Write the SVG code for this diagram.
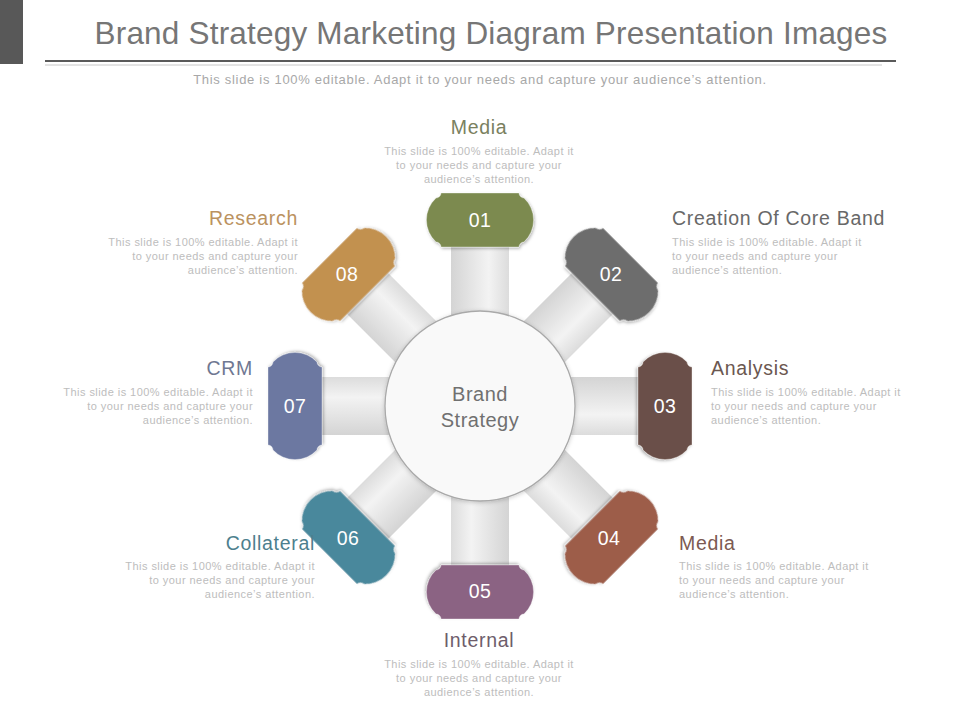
<svg xmlns="http://www.w3.org/2000/svg" width="960" height="720" viewBox="0 0 960 720">
<defs>
<style>
.title{font-family:"Liberation Sans",Arial,sans-serif;font-size:31.5px;letter-spacing:0.2px;fill:#767676}
.sub{font-family:"Liberation Sans",Arial,sans-serif;font-size:13px;letter-spacing:0.7px;fill:#a8a8a8}
.lbl{font-family:"Liberation Sans",Arial,sans-serif;font-size:19.5px;letter-spacing:0.7px}
.desc{font-family:"Liberation Sans",Arial,sans-serif;font-size:11px;letter-spacing:0.45px;fill:#bdbdbd}
.num{font-family:"Liberation Sans",Arial,sans-serif;font-size:19.5px;letter-spacing:0.5px;fill:#ffffff;text-anchor:middle}
.ctr{font-family:"Liberation Sans",Arial,sans-serif;font-size:20px;letter-spacing:0.5px;fill:#707070;text-anchor:middle}
.spoke{fill:url(#sg)}
.tagp{stroke:#ffffff;stroke-opacity:0.35;stroke-width:1;filter:url(#sh)}
</style>
<linearGradient id="sg" x1="0" y1="0" x2="1" y2="0">
<stop offset="0" stop-color="#d4d4d4"/>
<stop offset="0.65" stop-color="#f3f3f3"/>
<stop offset="1" stop-color="#dcdcdc"/>
</linearGradient>
<filter id="sh" x="-20%" y="-20%" width="140%" height="140%">
<feDropShadow dx="1" dy="1.5" stdDeviation="1.5" flood-color="#000" flood-opacity="0.3"/>
</filter>
<filter id="csh" x="-20%" y="-20%" width="140%" height="140%">
<feDropShadow dx="0" dy="1" stdDeviation="2" flood-color="#000" flood-opacity="0.2"/>
</filter>
<path id="tag" d="M -39,-27 H 39 A 5 5 0 0 0 44,-22 A 30 30 0 0 1 44,22 A 5 5 0 0 0 39,27 H -39 A 5 5 0 0 0 -44,22 A 30 30 0 0 1 -44,-22 A 5 5 0 0 0 -39,-27 Z"/>
</defs>
<rect width="960" height="720" fill="#ffffff"/>
<g id="header">
<rect x="0" y="0" width="23" height="64" fill="#585858"/>
<text class="title" x="491" y="44" text-anchor="middle">Brand Strategy Marketing Diagram Presentation Images</text>
<line x1="45" y1="61" x2="896" y2="61" stroke="#5a5a5a" stroke-width="2"/>
<line x1="45" y1="65" x2="882" y2="65" stroke="#c8c8c8" stroke-width="1"/>
<text class="sub" x="480" y="84" text-anchor="middle">This slide is 100% editable. Adapt it to your needs and capture your audience’s attention.</text>
</g>
<g id="connectors">
<rect class="spoke" x="-29" y="-165" width="58" height="165" transform="translate(480,406) rotate(0)"/>
<rect class="spoke" x="-29" y="-165" width="58" height="165" transform="translate(480,406) rotate(45)"/>
<rect class="spoke" x="-29" y="-165" width="58" height="165" transform="translate(480,406) rotate(90)"/>
<rect class="spoke" x="-29" y="-165" width="58" height="165" transform="translate(480,406) rotate(135)"/>
<rect class="spoke" x="-29" y="-165" width="58" height="165" transform="translate(480,406) rotate(180)"/>
<rect class="spoke" x="-29" y="-165" width="58" height="165" transform="translate(480,406) rotate(225)"/>
<rect class="spoke" x="-29" y="-165" width="58" height="165" transform="translate(480,406) rotate(270)"/>
<rect class="spoke" x="-29" y="-165" width="58" height="165" transform="translate(480,406) rotate(315)"/>
</g>
<g id="center">
<circle cx="480" cy="406" r="95" fill="#f9f9f9" stroke="#a9a9a9" stroke-width="1.3" filter="url(#csh)"/>
<text class="ctr" x="480" y="401">Brand</text>
<text class="ctr" x="480" y="427">Strategy</text>
</g>
<g id="node01">
<use href="#tag" class="tagp" fill="#7b8a4f" transform="translate(480,220) rotate(0)"/>
<text class="num" x="480" y="227">01</text>
<text class="lbl" x="479" y="134" text-anchor="middle" fill="#7a8160">Media</text>
<text class="desc" text-anchor="middle"><tspan x="479" y="155">This slide is 100% editable. Adapt it</tspan><tspan x="479" y="169">to your needs and capture your</tspan><tspan x="479" y="183">audience’s attention.</tspan></text>
</g>
<g id="node02">
<use href="#tag" class="tagp" fill="#6d6d6d" transform="translate(611.5,274.5) rotate(45)"/>
<text class="num" x="611" y="281">02</text>
<text class="lbl" x="672" y="225" fill="#686868">Creation Of Core Band</text>
<text class="desc"><tspan x="672" y="246">This slide is 100% editable. Adapt it</tspan><tspan x="672" y="260">to your needs and capture your</tspan><tspan x="672" y="274">audience’s attention.</tspan></text>
</g>
<g id="node03">
<use href="#tag" class="tagp" fill="#6b5048" transform="translate(665,406) rotate(90)"/>
<text class="num" x="665" y="413">03</text>
<text class="lbl" x="711" y="375" fill="#6b5750">Analysis</text>
<text class="desc"><tspan x="711" y="396">This slide is 100% editable. Adapt it</tspan><tspan x="711" y="410">to your needs and capture your</tspan><tspan x="711" y="424">audience’s attention.</tspan></text>
</g>
<g id="node04">
<use href="#tag" class="tagp" fill="#9d5d4a" transform="translate(611.5,537.5) rotate(135)"/>
<text class="num" x="609" y="545">04</text>
<text class="lbl" x="679" y="550" fill="#7c5a52">Media</text>
<text class="desc"><tspan x="679" y="570">This slide is 100% editable. Adapt it</tspan><tspan x="679" y="584">to your needs and capture your</tspan><tspan x="679" y="598">audience’s attention.</tspan></text>
</g>
<g id="node05">
<use href="#tag" class="tagp" fill="#8b6383" transform="translate(480,592) rotate(180)"/>
<text class="num" x="480" y="598">05</text>
<text class="lbl" x="479" y="647" text-anchor="middle" fill="#6e5d6b">Internal</text>
<text class="desc" text-anchor="middle"><tspan x="479" y="668">This slide is 100% editable. Adapt it</tspan><tspan x="479" y="682">to your needs and capture your</tspan><tspan x="479" y="696">audience’s attention.</tspan></text>
</g>
<g id="node06">
<use href="#tag" class="tagp" fill="#4a889c" transform="translate(348.5,537.5) rotate(225)"/>
<text class="num" x="348" y="545">06</text>
<text class="lbl" x="315" y="550" text-anchor="end" fill="#4d7f8e">Collateral</text>
<text class="desc" text-anchor="end"><tspan x="315" y="570">This slide is 100% editable. Adapt it</tspan><tspan x="315" y="584">to your needs and capture your</tspan><tspan x="315" y="598">audience’s attention.</tspan></text>
</g>
<g id="node07">
<use href="#tag" class="tagp" fill="#6c78a1" transform="translate(295,406) rotate(270)"/>
<text class="num" x="295" y="413">07</text>
<text class="lbl" x="253" y="375" text-anchor="end" fill="#6f7892">CRM</text>
<text class="desc" text-anchor="end"><tspan x="253" y="396">This slide is 100% editable. Adapt it</tspan><tspan x="253" y="410">to your needs and capture your</tspan><tspan x="253" y="424">audience’s attention.</tspan></text>
</g>
<g id="node08">
<use href="#tag" class="tagp" fill="#c29150" transform="translate(348.5,274.5) rotate(315)"/>
<text class="num" x="347" y="281">08</text>
<text class="lbl" x="298" y="225" text-anchor="end" fill="#bb9260">Research</text>
<text class="desc" text-anchor="end"><tspan x="298" y="246">This slide is 100% editable. Adapt it</tspan><tspan x="298" y="260">to your needs and capture your</tspan><tspan x="298" y="274">audience’s attention.</tspan></text>
</g>
</svg>
